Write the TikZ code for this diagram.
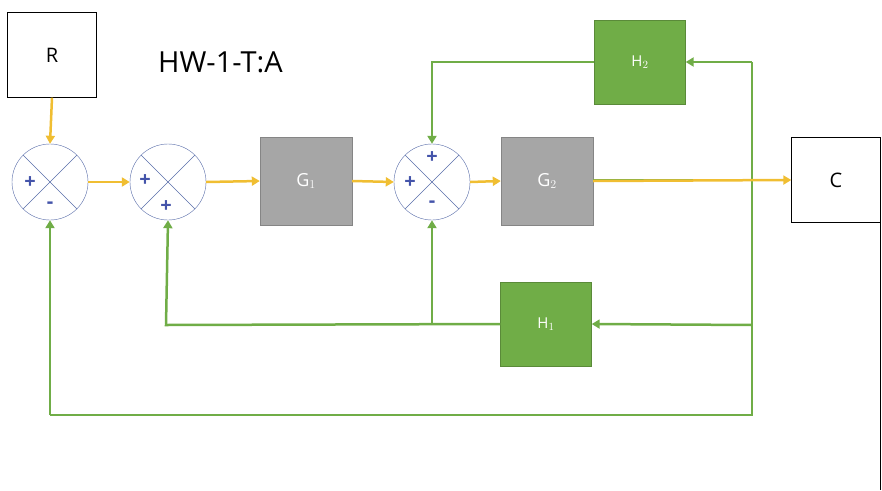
\documentclass[tikz,border=0pt]{standalone}
\usepackage{fontspec}
\setmainfont{Open Sans}
\usetikzlibrary{arrows.meta}
\definecolor{ora}{RGB}{240,190,50}
\definecolor{grn}{RGB}{112,173,71}
\definecolor{gry}{RGB}{166,166,166}
\definecolor{sgn}{RGB}{68,84,170}
\definecolor{ring}{RGB}{90,110,170}
\begin{document}
\begin{tikzpicture}[x=1pt,y=-1pt,
  box/.style={draw=black,fill=white,minimum width=89pt,minimum height=85pt,inner sep=0pt,font=\fontsize{20}{24}\selectfont},
  gbox/.style={draw=gry!80!black,fill=gry,text=white,minimum width=92pt,minimum height=88pt,inner sep=0pt,font=\fontsize{18}{22}\selectfont},
  hbox/.style={draw=grn!80!black,fill=grn,text=white,minimum width=91pt,minimum height=84pt,inner sep=0pt,font=\fontsize{15}{18}\selectfont},
  sum/.style={circle,draw=ring,fill=white,minimum size=76pt,inner sep=0pt},
  sg/.style={text=sgn,font=\bfseries\fontsize{20}{22}\selectfont,inner sep=0pt},
  fw/.style={draw=ora,line width=2.5pt,-{Triangle[length=8pt,width=9pt]}},
  fb/.style={draw=grn,line width=2.5pt},
  fba/.style={fb,-{Triangle[length=8pt,width=9pt]}}]
\useasboundingbox (0,0) rectangle (882,490);
\draw[black] (880,137) -- (880,490);
\node[box] (R) at (52,55) {R};
\node[anchor=west,font=\fontsize{29}{34}\selectfont,inner sep=0pt] (T) at (158,62) {HW-1-T:A};
\node[sum] (s1) at (50,182) {};
\node[sum] (s2) at (168,182) {};
\node[sum] (s3) at (432,182) {};
\foreach \s in {s1,s2,s3}{
  \draw[ring] (\s.north west) -- (\s.south east);
  \draw[ring] (\s.north east) -- (\s.south west);}
\node[sg] (p1) at (30,183) {+};
\node[sg] (m1) at (50,205) {-};
\node[sg] (p2) at (145,181) {+};
\node[sg] (p3) at (166,207) {+};
\node[sg] (p4) at (432,158) {+};
\node[sg] (p5) at (410,183) {+};
\node[sg] (m2) at (432,204) {-};
\node[gbox] (G1) at (306,181) {G$_1$};
\node[gbox] (G2) at (547,181) {G$_2$};
\node[box] (C) at (836,180) {C};
\node[hbox] (H2) at (640,62) {H$_2$};
\node[hbox] (H1) at (546,324) {H$_1$};
\coordinate (b3) at (752,180);
\coordinate (b2) at (752,62);
\coordinate (b1) at (752,325);
\coordinate (b0) at (752,415);
\coordinate (c2) at (432,62);
\coordinate (c1) at (432,325);
\coordinate (c0) at (166,325);
\coordinate (c4) at (50,415);
% feedback paths
\draw[fb] (G2.east |- b3) -- (b3);
\draw[fb] (b2) -- (b0) -- (c4);
\draw[fba] (c4) -- (s1.south);
\draw[fba] (b2) -- (H2.east);
\draw[fba] (H2.west) -- (c2) -- (s3.north);
\draw[fba] (b1) -- (H1.east);
\draw[fba] (H1.west) -- (c0) -- (s2.south);
\draw[fba] (c1) -- (s3.south);
% forward paths
\draw[fw] (R.south) -- (s1.north);
\draw[fw] (s1.east) -- (s2.west);
\draw[fw] (s2.east) -- (G1.west);
\draw[fw] (G1.west -| G1.east) -- (s3.west);
\draw[fw] (s3.east) -- (G2.west);
\draw[fw] (G2.east) -- (C.west);
\end{tikzpicture}
\end{document}
